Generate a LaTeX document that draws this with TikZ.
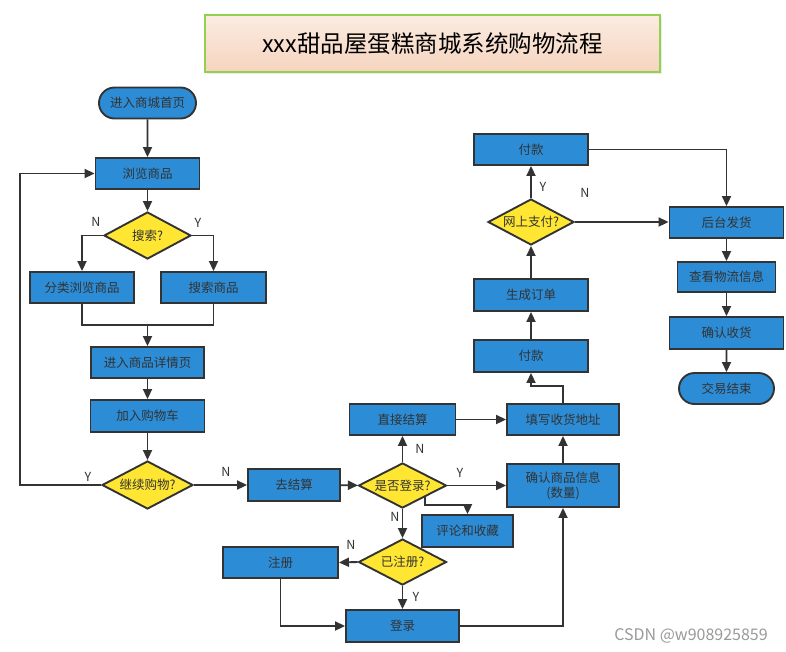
\documentclass[tikz,border=0pt]{standalone}
\usepackage{fontspec}
\setmainfont{Noto Sans CJK SC}
\usetikzlibrary{arrows.meta,shapes.geometric,shapes.misc,shadows}
\definecolor{boxblue}{RGB}{44,140,214}
\definecolor{decyellow}{RGB}{255,230,50}
\definecolor{edge}{RGB}{51,51,51}
\definecolor{titlegreen}{RGB}{146,208,80}
\definecolor{peachtop}{RGB}{251,236,226}
\definecolor{peachbot}{RGB}{245,212,190}
\tikzset{
  box/.style={draw=edge, line width=1.9pt, fill=boxblue, text=edge, font=\fontsize{12.5}{15}\selectfont, minimum height=31pt, inner sep=1pt, align=center},
  term/.style={box, rounded rectangle},
  dec/.style={draw=edge, line width=1.9pt, fill=decyellow, text=edge, diamond, aspect=2, inner sep=0pt, font=\fontsize{12.5}{15}\selectfont, minimum width=88pt, minimum height=46pt},
  title/.style={draw=titlegreen, line width=1.2pt, top color=peachtop, bottom color=peachbot, minimum width=455pt, minimum height=57pt, font=\fontsize{23.5}{27}\selectfont, drop shadow={opacity=0.15, shadow xshift=2pt, shadow yshift=-2pt}},
  arrow/.style={-{Triangle[length=10pt,width=9pt]}, line width=1.9pt, draw=edge},
  line/.style={line width=1.9pt, draw=edge},
  yn/.style={font=\fontsize{12.5}{14}\selectfont, text=edge}
}
\begin{document}
\begin{tikzpicture}[x=1pt, y=-1pt]
  \useasboundingbox (0,0) rectangle (786,651);
  \node[title] (title) at (432.5,43.5) {xxx甜品屋蛋糕商城系统购物流程};

  % left column
  \node[term, minimum width=99pt] (home) at (147.5,103) {进入商城首页};
  \node[box, minimum width=104pt] (browse) at (147.5,173.5) {浏览商品};
  \node[dec, minimum width=87pt, minimum height=47pt] (search) at (147.5,235.5) {搜索?};
  \node[box, minimum width=104pt] (cat) at (82,287.5) {分类浏览商品};
  \node[box, minimum width=105pt] (find) at (213.5,287.5) {搜索商品};
  \coordinate (join) at (147.5,325);
  \node[box, minimum width=113pt] (detail) at (147.5,362.5) {进入商品详情页};
  \node[box, minimum width=114pt, minimum height=32pt] (cart) at (147.5,416) {加入购物车};
  \node[dec, minimum width=91pt, minimum height=48pt] (more) at (147.5,485) {继续购物?};
  \coordinate (back) at (20,485);

  % middle
  \node[box, minimum width=92pt, minimum height=32pt] (checkout) at (294,485) {去结算};
  \node[dec, minimum height=45pt] (logged) at (402.5,485.5) {是否登录?};
  \node[box, minimum width=106pt] (direct) at (402.5,419.5) {直接结算};
  \node[box, minimum width=112pt] (addr) at (563,419.5) {填写收货地址};
  \node[box, minimum width=112pt, minimum height=43pt] (confirm) at (563,485.5) {确认商品信息\\(数量)};
  \node[box, minimum width=91pt, minimum height=32pt] (review) at (467.5,531) {评论和收藏};
  \node[dec] (registered) at (402.5,562) {已注册?};
  \node[box, minimum width=115pt] (signup) at (280.5,562.5) {注册};
  \node[box, minimum width=113pt, minimum height=32pt] (signin) at (402.5,626) {登录};

  % right
  \node[box, minimum width=114pt, minimum height=32pt] (pay2) at (531,356) {付款};
  \node[box, minimum width=114pt, minimum height=32pt] (order) at (531,295) {生成订单};
  \node[dec, minimum width=86pt] (online) at (531,222) {网上支付?};
  \node[box, minimum width=114pt] (pay1) at (531,149.5) {付款};
  \node[box, minimum width=114pt] (ship) at (726.5,222.5) {后台发货};
  \node[box, minimum width=98pt, minimum height=30pt] (track) at (726.5,277) {查看物流信息};
  \node[box, minimum width=114pt, minimum height=32pt] (receive) at (726.5,333) {确认收货};
  \node[term, minimum width=97pt] (done) at (726.5,388.5) {交易结束};

  % Y / N
  \node[yn] (sN) at (96,222) {N};
  \node[yn] (sY) at (198,223) {Y};
  \node[yn] (mY) at (88,477) {Y};
  \node[yn] (mN) at (226,472) {N};
  \node[yn] (lN) at (420,449) {N};
  \node[yn] (lY) at (460,473) {Y};
  \node[yn] (lN2) at (395,517) {N};
  \node[yn] (rN) at (351,545) {N};
  \node[yn] (rY) at (416,597) {Y};
  \node[yn] (oY) at (543,187) {Y};
  \node[yn] (oN) at (585,193) {N};

  \node[text=black!40, font=\fontsize{16}{18}\selectfont] (wm) at (691,636) {CSDN @w908925859};

  \draw[arrow] (home) -- (browse);
  \draw[arrow] (browse) -- (search);
  \draw[arrow] (search.west) -| (cat);
  \draw[arrow] (search.east) -| (find);
  \draw[line] (cat.south) |- (join) -| (find.south);
  \draw[arrow] (join) -- (detail);
  \draw[arrow] (detail) -- (cart);
  \draw[arrow] (cart) -- (more);
  \draw[arrow] (more.west) -- (back) |- (browse.west);
  \draw[arrow] (more.east) -- (checkout.west);
  \draw[arrow] (checkout) -- (logged);
  \draw[arrow] (logged) -- (direct);
  \draw[arrow] (direct) -- (addr);
  \draw[arrow] (logged.east) -- (confirm.west);
  \draw[arrow] (confirm) -- (addr);
  \draw[arrow] (logged.south east) -- ++(0,8) -| (review.north);
  \draw[arrow] (logged) -- (registered);
  \draw[arrow] (registered.west) -- (signup.east);
  \draw[arrow] (registered) -- (signin);
  \draw[arrow] (signup.south) |- (signin.west);
  \draw[arrow] (signin.east) -| (confirm.south);
  \draw[arrow] (addr.north) -- ++(0,-17) -| (pay2.south);
  \draw[arrow] (pay2) -- (order);
  \draw[arrow] (order) -- (online);
  \draw[arrow] (online) -- (pay1);
  \draw[arrow] (online.east) -- (online.east -| ship.west);
  \draw[arrow] (pay1.east) -| (ship.north);
  \draw[arrow] (ship) -- (track);
  \draw[arrow] (track) -- (receive);
  \draw[arrow] (receive) -- (done);
\end{tikzpicture}
\end{document}
